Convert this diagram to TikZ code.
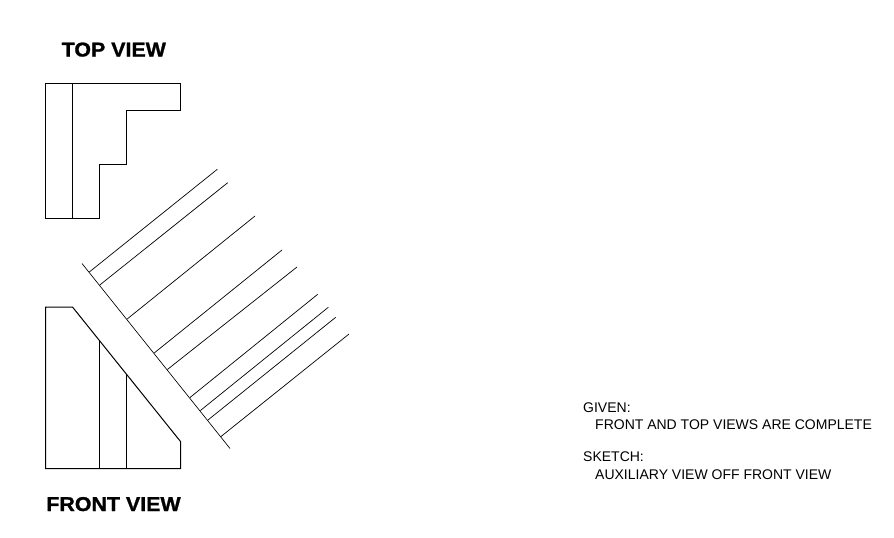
\documentclass[tikz,border=0pt]{standalone}
\usepackage{fontspec}
\setmainfont{Liberation Sans}
\newfontfamily\viewfont[BoldFeatures={FakeBold=1.2,FakeStretch=1.07}]{Liberation Sans}
\usetikzlibrary{positioning}
\tikzset{
    outline/.style={draw=black, line width=1pt, line join=miter},
    projector/.style={draw=black, line width=0.7pt},
    viewlabel/.style={anchor=base, inner sep=0pt, font=\viewfont\fontsize{20}{24}\selectfont\bfseries},
    notetext/.style={anchor=base west, inner sep=0pt, font=\fontsize{14}{17}\selectfont}
}
\begin{document}
\begin{tikzpicture}[x=1pt, y=-1pt]
    \useasboundingbox (0,0) rectangle (894,538);
    % top view
    \draw[outline] (45.5,83.5) -- (180.5,83.5) -- (180.5,110.5) -- (126.5,110.5) -- (126.5,164.5)
        -- (99.5,164.5) -- (99.5,218.5) -- (45.5,218.5) -- cycle;
    \draw[outline] (72.5,83.5) -- (72.5,218.5);
    % front view
    \draw[outline] (45.5,307) -- (72.5,307) -- (180.5,441.5) -- (180.5,468.5) -- (45.5,468.5) -- cycle;
    \draw[outline] (99.5,340) -- (99.5,468.5);
    \draw[outline] (126.5,374) -- (126.5,468.5);
    % folding line
    \coordinate (foldA) at (82,263.5);
    \coordinate (foldB) at (230,448.5);
    \draw[projector] (foldA) -- (foldB);
    % projectors
    \foreach \xa/\ya/\xb/\yb in {89.3/272/217.3/169.3, 99.8/285/227.7/182.7, 127.2/319/255/216,
                                 154.2/353/282/250, 167.4/369.5/297/267, 190/397.5/317.7/294.3,
                                 200.4/410.5/328.3/307.3, 208/420/335.7/317.3, 221/436.5/349/334}
        \draw[projector] (\xa,\ya) -- (\xb,\yb);
    % labels
    \node[viewlabel] (toplabel) at (113.8,56.5) {TOP VIEW};
    \node[viewlabel] (frontlabel) at (113.5,511) {FRONT VIEW};
    \node[notetext] (given) at (583,412) {GIVEN:};
    \node[notetext] (givenline) at (595,429) {FRONT AND TOP VIEWS ARE COMPLETE};
    \node[notetext] (sketch) at (583,461) {SKETCH:};
    \node[notetext] (sketchline) at (595,479) {AUXILIARY VIEW OFF FRONT VIEW};
\end{tikzpicture}
\end{document}
